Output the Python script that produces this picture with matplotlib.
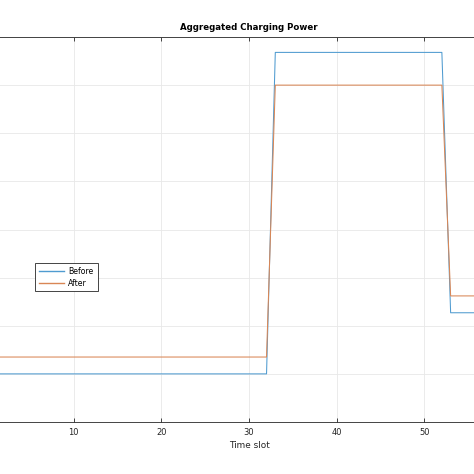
import matplotlib.pyplot as plt
import numpy as np

# time slots 1..60
slots = list(range(1, 61))

# aggregated charging power (axis units hidden by the crop)
before = [1.0, 1.0, 1.0, 1.0, 1.0, 1.0, 1.0, 1.0, 1.0, 1.0,
          1.0, 1.0, 1.0, 1.0, 1.0, 1.0, 1.0, 1.0, 1.0, 1.0,
          1.0, 1.0, 1.0, 1.0, 1.0, 1.0, 1.0, 1.0, 1.0, 1.0,
          1.0, 1.0, 7.68, 7.68, 7.68, 7.68, 7.68, 7.68, 7.68, 7.68,
          7.68, 7.68, 7.68, 7.68, 7.68, 7.68, 7.68, 7.68, 7.68, 7.68,
          7.68, 7.68, 2.27, 2.27, 2.27, 2.27, 2.27, 2.27, 2.27, 2.27]
after = [1.35, 1.35, 1.35, 1.35, 1.35, 1.35, 1.35, 1.35, 1.35, 1.35,
         1.35, 1.35, 1.35, 1.35, 1.35, 1.35, 1.35, 1.35, 1.35, 1.35,
         1.35, 1.35, 1.35, 1.35, 1.35, 1.35, 1.35, 1.35, 1.35, 1.35,
         1.35, 1.35, 7.0, 7.0, 7.0, 7.0, 7.0, 7.0, 7.0, 7.0,
         7.0, 7.0, 7.0, 7.0, 7.0, 7.0, 7.0, 7.0, 7.0, 7.0,
         7.0, 7.0, 2.62, 2.62, 2.62, 2.62, 2.62, 2.62, 2.62, 2.62]

x_ticks = [0, 10, 20, 30, 40, 50, 60]
# 0 and 60 sit outside the cropped picture, y labels are cropped away too
x_tick_labels = ['', '10', '20', '30', '40', '50', '']
y_ticks = [0, 1, 2, 3, 4, 5, 6, 7, 8]

fig = plt.figure(figsize=(4.74, 4.74), dpi=100)
# the reference is a crop: the axes run past the left and right edges
ax = fig.add_axes([-14 / 474, (474 - 422) / 474, 526 / 474, 385 / 474])

ax.plot(slots, before, color='#4f9bd0', lw=0.75, label='Before')
ax.plot(slots, after, color='#d98655', lw=0.75, label='After')

ax.set_xlim(0, 60)
ax.set_ylim(0, 8)
ax.set_xticks(x_ticks)
ax.set_xticklabels(x_tick_labels)
ax.set_yticks(y_ticks)
ax.set_yticklabels([])
ax.tick_params(direction='in', top=True, right=True, length=3, width=0.6,
               labelsize=6, colors='#262626', pad=4)
ax.grid(True, color='#e8e8e8', lw=0.6)
ax.set_axisbelow(True)
for s in ax.spines.values():
    s.set_color('#262626')
    s.set_linewidth(0.6)

ax.set_title('Aggregated Charging Power', fontsize=6.2, fontweight='bold', pad=5)
ax.set_xlabel('Time slot', fontsize=6.4, color='#262626', labelpad=3)

leg = ax.legend(loc='upper left', bbox_to_anchor=(0.093, 0.413), borderaxespad=0,
                fontsize=5.6, fancybox=False, framealpha=1, edgecolor='#262626',
                handlelength=3.2, borderpad=0.5, labelspacing=0.35, handletextpad=0.6)
leg.get_frame().set_linewidth(0.6)
for h in leg.get_lines():
    h.set_linewidth(1.0)

fig.savefig('out.png', dpi=100)
